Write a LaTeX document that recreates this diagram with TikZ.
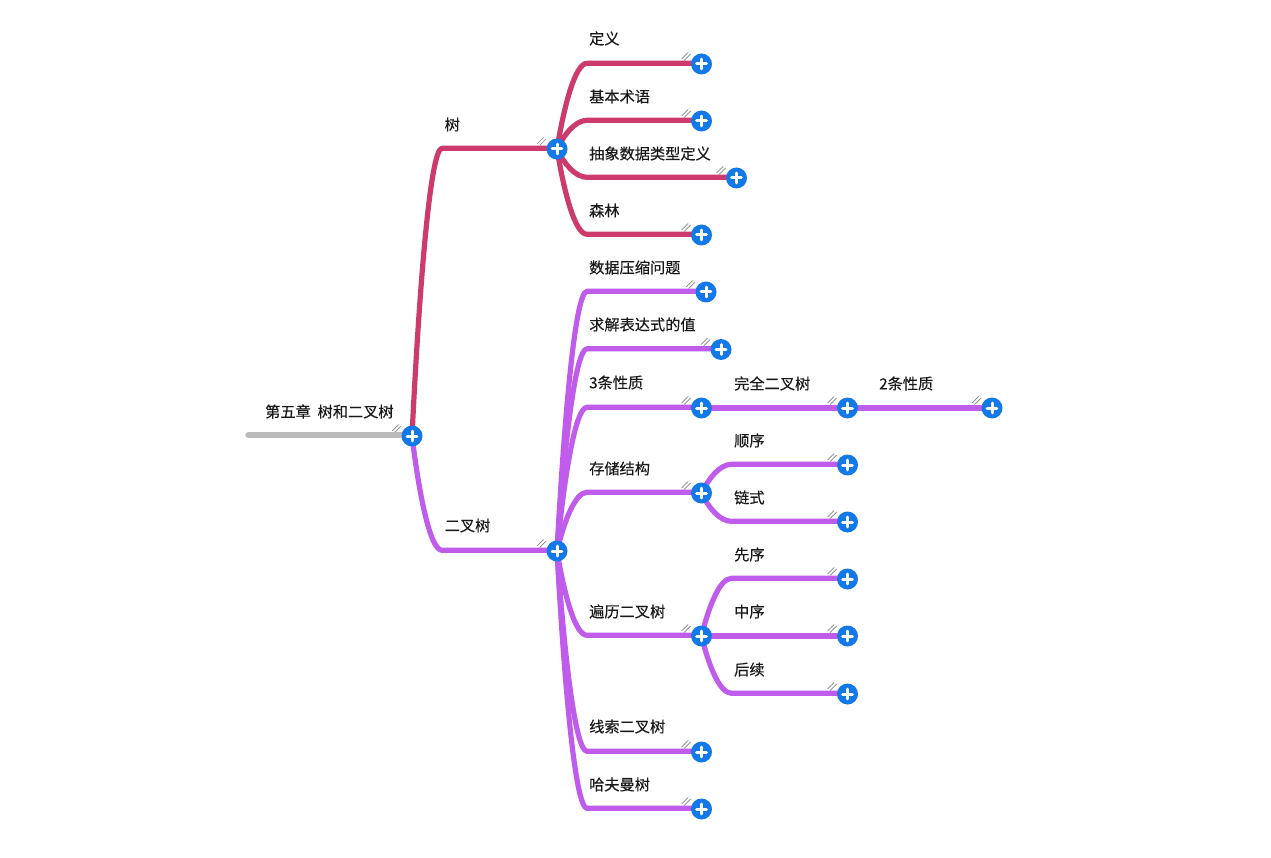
\documentclass[tikz,border=0pt]{standalone}
\usepackage{fontspec}
\setmainfont[FakeBold=0.3]{Noto Sans CJK SC}
\usetikzlibrary{backgrounds,calc}
\definecolor{crim}{HTML}{CC3A6E}
\definecolor{purp}{HTML}{BF5CEC}
\definecolor{blu}{HTML}{1479E8}
\definecolor{gry}{HTML}{BBBBBB}
\tikzset{
  plusnode/.style={circle,fill=blu,draw=none,minimum size=21pt,inner sep=0pt,
    path picture={
      \draw[white,line width=3pt,line cap=round]
        ([xshift=-4.8pt]path picture bounding box.center) -- ([xshift=4.8pt]path picture bounding box.center)
        ([yshift=-4.8pt]path picture bounding box.center) -- ([yshift=4.8pt]path picture bounding box.center);
    }},
  lab/.style={anchor=west,inner sep=0pt,yshift=1pt,font=\fontsize{15.2pt}{17pt}\selectfont,text=black!90},
  branch/.style={line width=5.2pt,line cap=round,line join=round},
  hatch/.style={gry!70!black,line width=0.7pt}
}
% plus button with its two hatch strokes
\newcommand\pbtn[3]{%
  \node[plusnode] (#1) at (#2,#3) {};
  \begin{scope}[on background layer]
  \draw[hatch] ($(#1)+(-20,-5)$) -- ++(6.5,-6.5);
  \draw[hatch] ($(#1)+(-17.5,-3.5)$) -- ++(6.5,-6.5);
  \end{scope}}
% curved branch: colour, from, to, corner offset
\newcommand\curvebranch[4]{%
  \draw[branch,#1] let \p1=(#2), \p2=(#3) in
    (\p1) .. controls (\x1+7,{\y1+0.5*(\y2-\y1)}) and (\x1+#4*0.6,\y2+0.7) .. (\x1+#4,\y2+0.7) -- (\x2,\y2+0.7);}
\begin{document}
\begin{tikzpicture}[x=1pt,y=-1pt]
\useasboundingbox (0,0) rectangle (1271,858);
\pbtn{root}{412}{436}
\pbtn{shu}{557}{149}
\pbtn{ercha}{557}{551}
\pbtn{a1}{701.5}{64}
\pbtn{a2}{701.5}{121}
\pbtn{a3}{736.5}{178}
\pbtn{a4}{701.5}{235}
\pbtn{b1}{706}{292}
\pbtn{b2}{721}{349.5}
\pbtn{b3}{701.5}{408}
\pbtn{b4}{701.5}{493}
\pbtn{b5}{701.5}{636}
\pbtn{b6}{701.5}{752}
\pbtn{b7}{701.5}{809}
\pbtn{c1}{847.5}{408}
\pbtn{c2}{992}{408}
\pbtn{d1}{847.5}{465}
\pbtn{d2}{847.5}{522}
\pbtn{e1}{847.5}{579}
\pbtn{e2}{847.5}{636}
\pbtn{e3}{847.5}{694}
\coordinate (start) at (248,435);
\node[lab] (troot) at (265,412.5) {第五章\ \ 树和二叉树};
\node[lab] (tshu) at (444.5,125.5) {树};
\node[lab] (tercha) at (444.5,526.5) {二叉树};
\node[lab] (ta1) at (589,39.5) {定义};
\node[lab] (ta2) at (589,97.5) {基本术语};
\node[lab] (ta3) at (589,154.5) {抽象数据类型定义};
\node[lab] (ta4) at (589,211.5) {森林};
\node[lab] (tb1) at (589,268.5) {数据压缩问题};
\node[lab] (tb2) at (589,325.5) {求解表达式的值};
\node[lab] (tb3) at (589,383.5) {3条性质};
\node[lab] (tb4) at (589,469.5) {存储结构};
\node[lab] (tb5) at (589,612.5) {遍历二叉树};
\node[lab] (tb6) at (589,727.5) {线索二叉树};
\node[lab] (tb7) at (589,785.5) {哈夫曼树};
\node[lab] (tc1) at (734,384.5) {完全二叉树};
\node[lab] (tc2) at (879,384.5) {2条性质};
\node[lab] (td1) at (734,441.5) {顺序};
\node[lab] (td2) at (734,498.5) {链式};
\node[lab] (te1) at (734,555.5) {先序};
\node[lab] (te2) at (734,612.5) {中序};
\node[lab] (te3) at (734,670.5) {后续};
\begin{scope}[on background layer]
\draw[branch,gry] (start) -- (root.center |- start);
\curvebranch{crim}{root.center}{shu.center}{30}
\curvebranch{purp}{root.center}{ercha.center}{30}
\foreach \kid in {a1,a2,a3,a4}{\curvebranch{crim}{shu.center}{\kid.center}{30}}
\foreach \kid in {b1,b2,b3,b4,b5,b6,b7}{\curvebranch{purp}{ercha.center}{\kid.center}{30}}
\foreach \kid in {d1,d2}{\curvebranch{purp}{b4.center}{\kid.center}{30}}
\foreach \kid in {e1,e3}{\curvebranch{purp}{b5.center}{\kid.center}{30}}
\draw[branch,purp] (b3) -- (c1);
\draw[branch,purp] (c1) -- (c2);
\draw[branch,purp] (b5) -- (e2);
\end{scope}
\end{tikzpicture}
\end{document}
